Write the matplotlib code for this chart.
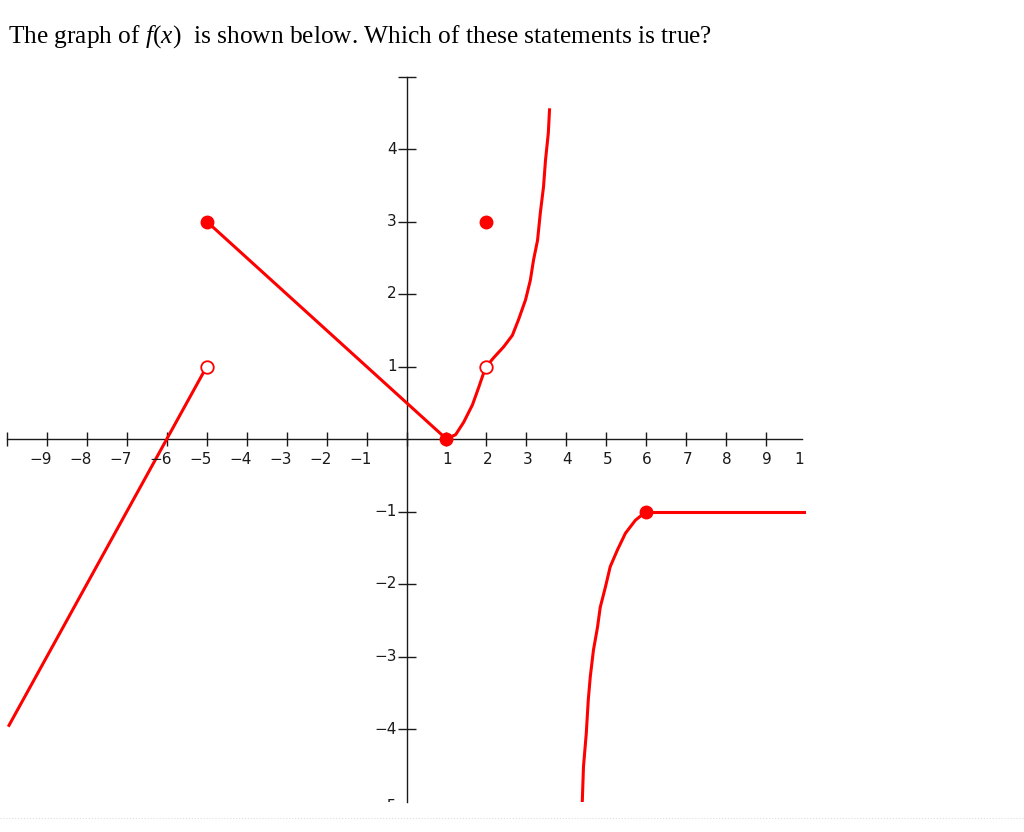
import matplotlib
matplotlib.use("Agg")
import matplotlib.pyplot as plt
from matplotlib.lines import Line2D
from matplotlib.transforms import offset_copy

plt.rcParams['mathtext.fontset'] = 'custom'
plt.rcParams['mathtext.rm'] = 'Liberation Serif'
plt.rcParams['mathtext.it'] = 'Liberation Serif:italic'

# pieces of f(x)
left_x = [-9.95, -5]
left_y = [-3.95, 1]
slope_x = [-5, 1]
slope_y = [3, 0]
rise_x = [1, 1.23, 1.43, 1.65, 1.8, 1.93, 2]
rise_y = [0, 0.06, 0.23, 0.47, 0.70, 0.91, 1]
steep_x = [2, 2.18, 2.43, 2.65, 2.8, 2.98, 3.1, 3.18, 3.28, 3.35, 3.43,
           3.48, 3.55, 3.58]
steep_y = [1, 1.12, 1.27, 1.43, 1.64, 1.92, 2.19, 2.47, 2.74, 3.12, 3.48,
           3.85, 4.22, 4.54]
low_x = [4.4, 4.43, 4.5, 4.55, 4.6, 4.68, 4.78, 4.85, 4.98, 5.1, 5.28,
         5.48, 5.73, 6]
low_y = [-5, -4.52, -4.06, -3.6, -3.28, -2.91, -2.6, -2.32, -2.04, -1.76,
         -1.53, -1.30, -1.12, -1]
flat_x = [6, 9.97]
flat_y = [-1, -1]

closed_x = [-5, 1, 2, 6]
closed_y = [3, 0, 3, -1]
open_x = [-5, 2]
open_y = [1, 1]

x_ticks = list(range(-10, 10))
x_labels = ['', '\u22129', '\u22128', '\u22127', '\u22126', '\u22125', '\u22124',
            '\u22123', '\u22122', '\u22121', '', '1', '2', '3', '4', '5', '6',
            '7', '8', '9']
y_ticks = [-4, -3, -2, -1, 1, 2, 3, 4]

red = '#ff0000'
ink = '#1a1a1a'
tick_fs = 11

fig = plt.figure(figsize=(10.24, 8.32), dpi=100)
ax = fig.add_axes([7/1024, 30.5/832, 799/1024, 725/832])
ax.set_xlim(-10, 10)
ax.set_ylim(-5, 5)
ax.axis('off')

# axes lines
ax.plot([-10, 9.9], [0, 0], color=ink, lw=1, clip_on=False)
ax.plot([0, 0], [-5, 5], color=ink, lw=1, clip_on=False)

for x, lab in zip(x_ticks, x_labels):
    ax.plot([x], [0], marker='|', markersize=10, color=ink, mew=1,
            clip_on=False)
    if x < 0:
        tr = offset_copy(ax.transData, fig=fig, x=5, y=-21, units='dots')
        ax.text(x, 0, lab, transform=tr, ha='right', va='center',
                fontsize=tick_fs, color=ink)
    else:
        tr = offset_copy(ax.transData, fig=fig, x=1, y=-21, units='dots')
        ax.text(x, 0, lab, transform=tr, ha='center', va='center',
                fontsize=tick_fs, color=ink)
# the "10" label is cut at the right edge
tr = offset_copy(ax.transData, fig=fig, x=-7, y=-21, units='dots')
ax.text(10, 0, '1', transform=tr, ha='center', va='center',
        fontsize=tick_fs, color=ink)

for y in y_ticks + [5]:
    ax.plot([0], [y], marker='_', markersize=13, color=ink, mew=1,
            clip_on=False)
for y in y_ticks + [-5]:
    lab = str(y) if y > 0 else '\u2212' + str(-y)
    dy = -5 if y == -5 else 0
    tr = offset_copy(ax.transData, fig=fig, x=-10, y=dy, units='dots')
    t = ax.text(0, y, lab, transform=tr, ha='right', va='center',
                fontsize=tick_fs, color=ink)
    t.set_clip_on(True)

# curves
for xs, ys in [(left_x, left_y), (slope_x, slope_y), (rise_x, rise_y),
               (steep_x, steep_y), (low_x, low_y), (flat_x, flat_y)]:
    ax.plot(xs, ys, color=red, lw=2.2, solid_joinstyle='round')

ax.plot(closed_x, closed_y, 'o', color=red, markersize=9, zorder=5)
ax.plot(open_x, open_y, 'o', markerfacecolor='white', markeredgecolor=red,
        markeredgewidth=1.3, markersize=9, zorder=5)

fig.text(8/1024, (832 - 43)/832,
         'The graph of $f(x)$  is shown below. Which of these statements is true?',
         fontsize=18.3, family='Liberation Serif', va='baseline', ha='left')

fig.add_artist(Line2D([0, 1], [1 - 818/832, 1 - 818/832], color='#dddddd',
                      lw=0.8, ls=':'))

fig.savefig('out.png', dpi=100)
